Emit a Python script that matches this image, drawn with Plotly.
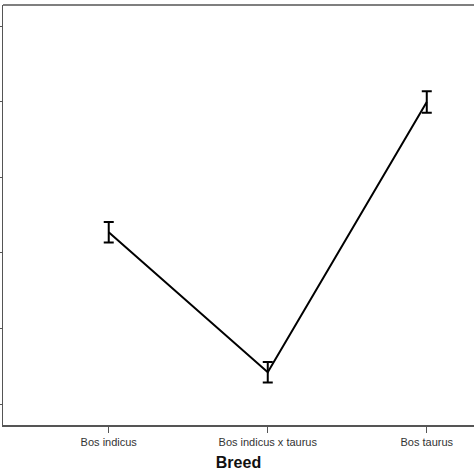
import plotly.graph_objects as go

breeds = ["Bos indicus", "Bos indicus x taurus", "Bos taurus"]
means = [2.275, 0.42, 4.0]
errors = [0.136, 0.136, 0.143]
y_ticks = [0, 1, 2, 3, 4, 5]

fig = go.Figure()
fig.add_trace(go.Scatter(
    x=breeds, y=means, mode="lines",
    line=dict(color="black", width=2),
    error_y=dict(type="data", array=errors, visible=True,
                 color="black", thickness=2, width=5),
    showlegend=False,
))

axis_color = "#555555"
fig.update_layout(
    width=474, height=474,
    margin=dict(l=3, r=0, t=5, b=49),
    plot_bgcolor="white", paper_bgcolor="white",
    font=dict(family="Liberation Sans, Arial, sans-serif", size=11, color="#333333"),
    xaxis=dict(
        type="category", range=[-0.665, 2.297], automargin=False,
        showline=True, linecolor=axis_color, linewidth=1.5, mirror=False,
        ticks="outside", ticklen=6, tickcolor=axis_color, tickwidth=1,
        showgrid=False, zeroline=False, showspikes=False,
        title=dict(text="<b>Breed</b>", font=dict(size=16, color="#111111"), standoff=10),
    ),
    yaxis=dict(
        range=[-0.278, 5.284], tickvals=y_ticks, showticklabels=False, automargin=False,
        showline=True, linecolor=axis_color, linewidth=1.5, mirror=False,
        ticks="outside", ticklen=3, tickcolor=axis_color, tickwidth=1,
        showgrid=False, zeroline=False, showspikes=False,
    ),
    shapes=[dict(type="line", xref="paper", yref="paper", x0=0, x1=1, y0=1, y1=1,
                 line=dict(color=axis_color, width=1.5))],
)

fig.write_html(
    "out.html",
    config={"staticPlot": True, "displayModeBar": False},
    post_script="document.body.style.margin='0';document.body.style.overflow='hidden';",
)
